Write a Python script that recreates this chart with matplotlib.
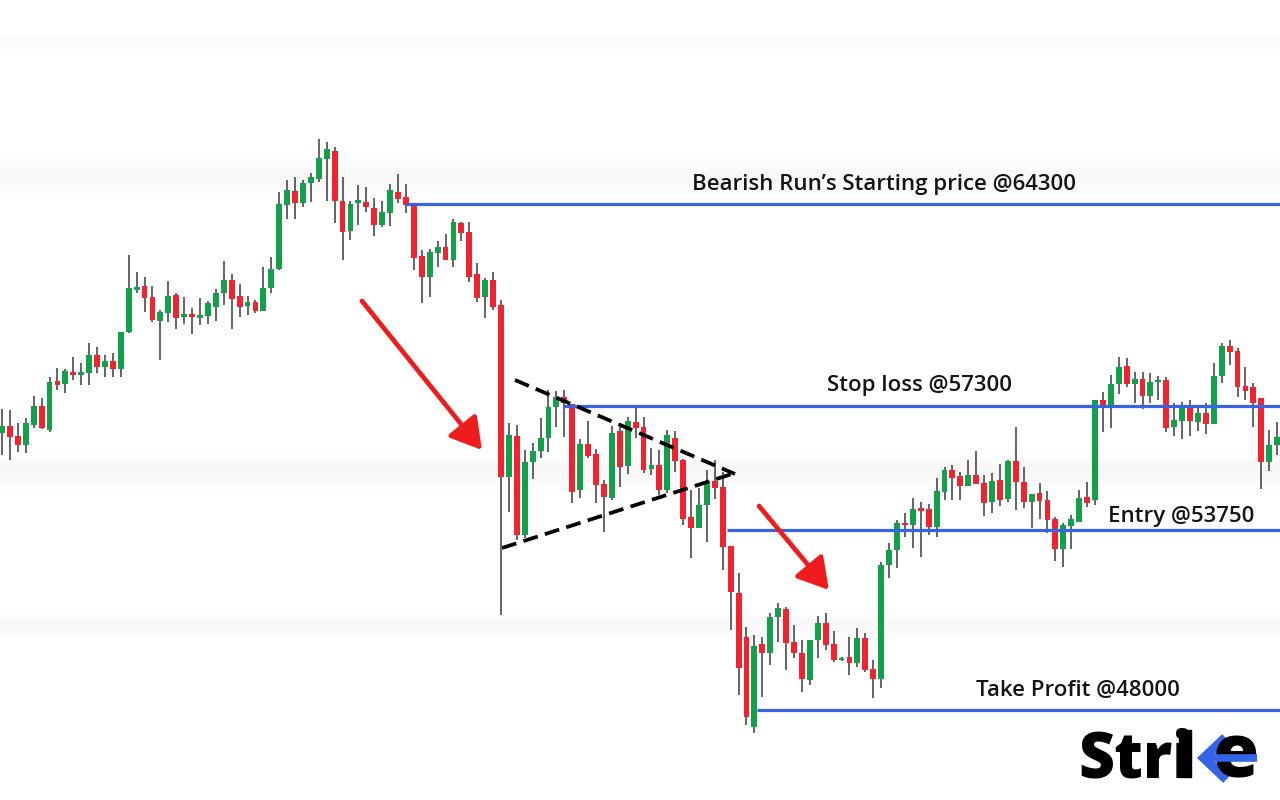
import numpy as np
import matplotlib.pyplot as plt

# candle data (one candle per bar, left to right)
opens = [56944, 57168, 56848, 56560, 57200, 57808, 57040, 58608, 58512, 58896,
         58800, 58864, 59440, 59056, 59248, 58992, 60176, 61520, 61648, 61296,
         60528, 60784, 61360, 60656, 60752, 60624, 60688, 60976, 61424, 61840,
         61328, 61008, 61136, 60848, 61584, 62192, 64240, 64688, 64304, 64944,
         65072, 65712, 65968, 64368, 63408, 64304, 64336, 64144, 63600, 63984,
         64656, 64496, 64304, 62608, 61936, 62704, 62896, 62480, 63664, 63376,
         62032, 61296, 61840, 61040, 55536, 56848, 53680, 56016, 56368, 56784,
         57776, 58096, 57872, 55120, 56592, 56272, 55312, 54864, 57008, 55888,
         57296, 57136, 55792, 55920, 55120, 56784, 56080, 54256, 53904, 54640,
         55408, 55216, 53328, 51824, 50416, 47536, 50192, 49904, 51056, 51312,
         50256, 49904, 49040, 50320, 50864, 50192, 49680, 49776, 49584, 50384,
         49392, 49072, 52720, 53200, 54064, 54000, 54544, 54512, 53936, 55056,
         55760, 55568, 55248, 55600, 55344, 54736, 55440, 54832, 56048, 55376,
         54736, 55024, 54800, 54192, 53232, 53968, 54096, 54896, 54800, 58000,
         57776, 58512, 59088, 58512, 58672, 58128, 58576, 58640, 57136, 57328,
         57840, 57296, 57584, 57232, 58768, 59728, 59568, 58448, 58416, 58064,
         56016, 56560]
highs = [57712, 57680, 57264, 57424, 58128, 58064, 58736, 59024, 58992, 59376,
         59184, 59824, 59696, 59440, 59504, 60176, 62640, 62096, 61936, 61648,
         60880, 61808, 61424, 61296, 60944, 61264, 61168, 61552, 62448, 62032,
         61712, 61328, 61200, 62256, 62576, 64656, 65040, 65136, 65040, 65264,
         66352, 66256, 66096, 65136, 64368, 64880, 64816, 64464, 64368, 64912,
         65232, 64912, 64304, 62800, 62832, 63088, 63312, 63792, 63696, 63696,
         62384, 61904, 62096, 61200, 57264, 57200, 56400, 56624, 57424, 58320,
         58288, 58320, 57872, 56752, 57328, 56432, 55440, 57168, 57136, 57456,
         57840, 57456, 56464, 56400, 57040, 57008, 56112, 55120, 55184, 55760,
         56080, 55696, 53328, 52464, 50736, 50480, 50416, 51184, 51504, 51376,
         50800, 50320, 50320, 51088, 51184, 50608, 49776, 50416, 50704, 50544,
         49680, 52816, 53424, 54160, 54384, 54864, 54736, 54672, 55504, 55856,
         55920, 55696, 56080, 56368, 55600, 55664, 55952, 56080, 57136, 55856,
         54992, 55344, 55088, 54256, 54064, 54320, 55120, 55376, 58000, 58256,
         58800, 59376, 59344, 58896, 58896, 58864, 58768, 58736, 57904, 57936,
         58000, 57744, 57904, 59184, 59824, 59920, 59664, 59056, 58544, 58064,
         57040, 57296]
lows = [56240, 56080, 56336, 56304, 57104, 57072, 56976, 58320, 58224, 58640,
        58480, 58480, 58864, 58736, 58736, 58736, 60144, 61424, 60816, 60496,
        59280, 60496, 60272, 60432, 60112, 60400, 60432, 60528, 61040, 60272,
        60656, 60720, 60784, 60848, 61424, 62160, 63792, 63792, 64176, 64336,
        64976, 64368, 63664, 62480, 63120, 63600, 64016, 63248, 63536, 63568,
        64304, 63984, 62160, 61104, 61296, 62256, 62480, 62256, 63088, 61776,
        61136, 60624, 60880, 51120, 54416, 53520, 53584, 55472, 56144, 56336,
        57136, 56816, 54704, 54864, 56144, 54704, 53776, 54800, 55216, 55632,
        56784, 55664, 55600, 54960, 55024, 55696, 54000, 52944, 53904, 53456,
        54832, 52560, 50640, 48560, 47600, 47344, 48496, 49520, 50256, 49360,
        49744, 48656, 48880, 49744, 50000, 49616, 49648, 49200, 49456, 49296,
        48464, 48784, 52304, 52624, 53616, 53264, 52976, 53680, 53616, 54800,
        54800, 54800, 55248, 55312, 54288, 54384, 54608, 54736, 54480, 54544,
        53904, 54192, 53744, 52848, 52656, 53232, 54096, 54576, 54640, 56976,
        57104, 58192, 58416, 57904, 57712, 57904, 58000, 56976, 56848, 56752,
        56848, 57008, 56912, 57232, 58544, 59120, 58096, 58000, 57136, 55152,
        55728, 56240]
closes = [57168, 56816, 56560, 57264, 57808, 57104, 58576, 58480, 58928, 58800,
          58896, 59440, 59056, 59248, 58992, 60176, 61584, 61616, 61264, 60560,
          60816, 61328, 60624, 60752, 60656, 60720, 61104, 61424, 61840, 61232,
          60976, 61136, 60848, 61584, 62192, 64272, 64720, 64304, 64944, 65136,
          65744, 66032, 64368, 63376, 64272, 64400, 64176, 63600, 64016, 64720,
          64432, 64240, 62544, 61936, 62736, 62896, 62480, 63696, 63344, 61936,
          61264, 61840, 60976, 55536, 56880, 53680, 56016, 56368, 56784, 57776,
          58096, 57904, 55056, 56592, 56208, 55280, 54896, 56944, 55856, 57328,
          57104, 55760, 55920, 55120, 56880, 56048, 54192, 53904, 54640, 55408,
          55184, 53296, 51856, 49424, 47856, 50128, 49904, 51056, 51344, 50224,
          49904, 49072, 50320, 50864, 50160, 49680, 49744, 49584, 50384, 49360,
          49072, 52720, 53200, 54064, 54000, 54512, 54448, 53936, 55088, 55760,
          55504, 55248, 55600, 55312, 54704, 55408, 54800, 56048, 55376, 54736,
          54992, 54768, 54160, 53232, 54000, 54192, 54864, 54704, 58000, 57776,
          58512, 59056, 58512, 58672, 58128, 58576, 58640, 57104, 57360, 57840,
          57328, 57584, 57232, 58768, 59728, 59536, 58416, 58288, 57904, 56016,
          56560, 56816]

# horizontal levels: drawn price, first candle index, label text
level_prices = [64272, 57808, 53840, 48080]
level_start = [51, 71, 91.5, 95.3]
level_labels = ["Bearish Run\u2019s Starting price @64300", "Stop loss @57300",
                "Entry @53750", "Take Profit @48000"]
label_x = [111.4, 115.85, 148.9, 135.8]
label_y = [64900, 58480, 54260, 48720]

# triangle (pennant) dashed lines
tri_upper = ([64.77, 92.55], [58640, 55632])
tri_lower = ([63.13, 92.55], [53264, 55664])

# arrows: start, tip
arrows = [((45.45, 61168), (60.6, 56400)),
          ((95.58, 54608), (104.4, 51920))]

GREEN = '#12a14a'
RED = '#f2232f'
BLUE = '#3565e4'

fig = plt.figure(figsize=(12.8, 8), dpi=100)
ax = fig.add_axes([0, 0, 1, 1])
ax.set_xlim(-0.2525, 161.36)
ax.set_ylim(45200, 70800)
ax.axis('off')

# soft grey bands in the background
yy = np.linspace(70800, 45200, 400)
prof = np.zeros_like(yy)
for cc, s, a in [(69500, 250, 0.02), (65100, 500, 0.03), (55700, 450, 0.035), (50800, 350, 0.03)]:
    prof += a * np.exp(-((yy - cc) / s) ** 2)
ax.imshow((1 - prof)[:, None], extent=(-0.2525, 161.36, 45200, 70800), aspect='auto',
          cmap='gray', vmin=0, vmax=1, zorder=0)

o = np.array(opens)
h = np.array(highs)
l = np.array(lows)
c = np.array(closes)
x = np.arange(len(o))
cols = np.where(c >= o, GREEN, RED)

ax.vlines(x, l, h, color='#3a3a3a', lw=1.1, zorder=2)
body_lo = np.minimum(o, c)
body_h = np.maximum(np.abs(c - o), 60)
ax.bar(x, body_h, bottom=body_lo, width=0.74, color=cols, zorder=3)

for p, s in zip(level_prices, level_start):
    ax.plot([s, 161.36], [p, p], color=BLUE, lw=2.3, zorder=4, solid_capstyle='butt')
for t, lx, ly in zip(level_labels, label_x, label_y):
    ax.text(lx, ly, t, ha='center', va='center', fontsize=16, fontweight='semibold',
            family=['Open Sans', 'DejaVu Sans'], color='#141414', zorder=5)

for xs, ys in [tri_upper, tri_lower]:
    ax.plot(xs, ys, color='black', lw=2.7, dashes=(4, 2), zorder=5)

for st, tip in arrows:
    ax.annotate('', xy=tip, xytext=st,
                arrowprops=dict(arrowstyle='-|>,head_length=0.85,head_width=0.5',
                                color='#ee1c1c', lw=3.4, mutation_scale=22,
                                shrinkA=0, shrinkB=0), zorder=5)

# logo "Strike" with the blue arrow k (positions in pixels from top-left)
def px(xp, yp):
    return xp / 1280, 1 - yp / 800

fkw = dict(fontweight='heavy', family=['Open Sans', 'DejaVu Sans'],
           color='black', transform=fig.transFigure, zorder=6)
fig.text(*px(1078, 777), "Stri", ha='left', va='baseline', fontsize=45, **fkw)
fig.patches.append(plt.Rectangle(px(1179, 777), 12 / 1280, 47 / 800, transform=fig.transFigure,
                                 color='black', zorder=6))
fig.add_artist(plt.Line2D([1222 / 1280, 1204 / 1280, 1223 / 1280],
                          [1 - 741 / 800, 1 - 758 / 800, 1 - 776 / 800],
                          transform=fig.transFigure, color=BLUE, lw=7,
                          solid_joinstyle='miter', zorder=6))
fig.text(*px(1213, 777), "e", ha='left', va='baseline', fontsize=54, **fkw)
fig.add_artist(plt.Line2D([1206 / 1280, 1257 / 1280], [1 - 758 / 800, 1 - 758 / 800],
                          transform=fig.transFigure, color=BLUE, lw=5.5,
                          solid_capstyle='butt', zorder=7))

fig.savefig('out.png', dpi=100)
